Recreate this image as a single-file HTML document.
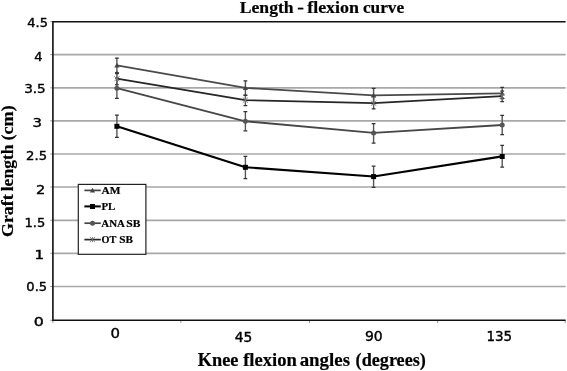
<!DOCTYPE html><html><head><meta charset="utf-8"><style>html,body{margin:0;padding:0;background:#fff;width:567px;height:371px;overflow:hidden}svg{display:block}</style></head><body>
<svg width="567" height="371" viewBox="0 0 567 371">
<rect width="567" height="371" fill="#fff"/>
<path d="M52.9 54.63H565.6M52.9 87.83H565.6M52.9 120.83H565.6M52.9 153.99H565.6M52.9 186.99H565.6M52.9 220.34H565.6M52.9 253.34H565.6M52.9 286.50H565.6" stroke="#a8a8a8" stroke-width="1.6" fill="none"/>
<path d="M50.3 21.6H52.9M50.3 54.6H52.9M50.3 87.8H52.9M50.3 120.8H52.9M50.3 154.0H52.9M50.3 187.0H52.9M50.3 220.3H52.9M50.3 253.3H52.9M50.3 286.5H52.9M50.3 320.3H52.9" stroke="#999" stroke-width="1" fill="none"/>
<path d="M52.9 320.3V323.1M180.9 320.3V323.1M309.5 320.3V323.1M437.6 320.3V323.1M565.2 320.3V323.1" stroke="#999" stroke-width="1" fill="none"/>
<path d="M52.9 21.65H565.6" stroke="#111" stroke-width="1.5" fill="none"/>
<path d="M52.9 20.9V321.1M52.2 320.3H565.6" stroke="#111" stroke-width="1.6" fill="none"/>
<path d="M116.9 58.0V73.0M245.4 80.8V95.3M373.6 88.4V103.6M502.2 87.4V98.5" stroke="#555" stroke-width="1.4" fill="none"/>
<path d="M115.0 58.0H118.8M115.0 73.0H118.8M243.5 80.8H247.3M243.5 95.3H247.3M371.7 88.4H375.5M371.7 103.6H375.5M500.3 87.4H504.1M500.3 98.5H504.1" stroke="#333" stroke-width="1.25" fill="none"/>
<path d="M116.9 72.8V84.6M245.4 95.1V105.7M373.6 96.3V108.9M502.2 91.2V101.6" stroke="#555" stroke-width="1.4" fill="none"/>
<path d="M115.0 72.8H118.8M115.0 84.6H118.8M243.5 95.1H247.3M243.5 105.7H247.3M371.7 96.3H375.5M371.7 108.9H375.5M500.3 91.2H504.1M500.3 101.6H504.1" stroke="#333" stroke-width="1.25" fill="none"/>
<path d="M116.9 78.1V98.3M245.4 111.5V130.8M373.6 123.5V143.0M502.2 115.3V134.6" stroke="#555" stroke-width="1.4" fill="none"/>
<path d="M115.0 78.1H118.8M115.0 98.3H118.8M243.5 111.5H247.3M243.5 130.8H247.3M371.7 123.5H375.5M371.7 143.0H375.5M500.3 115.3H504.1M500.3 134.6H504.1" stroke="#333" stroke-width="1.25" fill="none"/>
<path d="M116.9 115.1V137.3M245.4 156.4V178.7M373.6 166.2V187.3M502.2 145.3V167.1" stroke="#555" stroke-width="1.4" fill="none"/>
<path d="M115.0 115.1H118.8M115.0 137.3H118.8M243.5 156.4H247.3M243.5 178.7H247.3M371.7 166.2H375.5M371.7 187.3H375.5M500.3 145.3H504.1M500.3 167.1H504.1" stroke="#333" stroke-width="1.25" fill="none"/>
<path d="M116.9 65.4 L245.4 87.9 L373.6 95.3 L502.2 93.4" stroke="#4a4a4a" stroke-width="1.8" fill="none" stroke-linejoin="round"/>
<path d="M116.9 62.8 L119.5 67.5 L114.3 67.5Z" fill="#444"/>
<path d="M245.4 85.3 L248.0 90.0 L242.8 90.0Z" fill="#444"/>
<path d="M373.6 92.7 L376.2 97.4 L371.0 97.4Z" fill="#444"/>
<path d="M502.2 90.8 L504.8 95.5 L499.6 95.5Z" fill="#444"/>
<path d="M116.9 78.7 L245.4 100.1 L373.6 103.2 L502.2 96.2" stroke="#262626" stroke-width="1.8" fill="none" stroke-linejoin="round"/>
<path d="M114.3 76.1 L119.5 81.3 M114.3 81.3 L119.5 76.1 M116.9 76.1 L116.9 81.3" stroke="#777" stroke-width="0.9" fill="none"/>
<path d="M242.8 97.5 L248.0 102.7 M242.8 102.7 L248.0 97.5 M245.4 97.5 L245.4 102.7" stroke="#777" stroke-width="0.9" fill="none"/>
<path d="M371.0 100.6 L376.2 105.8 M371.0 105.8 L376.2 100.6 M373.6 100.6 L373.6 105.8" stroke="#777" stroke-width="0.9" fill="none"/>
<path d="M499.6 93.6 L504.8 98.8 M499.6 98.8 L504.8 93.6 M502.2 93.6 L502.2 98.8" stroke="#777" stroke-width="0.9" fill="none"/>
<path d="M116.9 88.2 L245.4 121.3 L373.6 132.9 L502.2 125.0" stroke="#474747" stroke-width="1.9" fill="none" stroke-linejoin="round"/>
<circle cx="116.9" cy="88.2" r="2.5" fill="#555"/>
<circle cx="245.4" cy="121.3" r="2.5" fill="#555"/>
<circle cx="373.6" cy="132.9" r="2.5" fill="#555"/>
<circle cx="502.2" cy="125.0" r="2.5" fill="#555"/>
<path d="M116.9 126.2 L245.4 167.2 L373.6 176.5 L502.2 156.4" stroke="#000" stroke-width="2.1" fill="none" stroke-linejoin="round"/>
<rect x="114.4" y="123.8" width="5" height="5" fill="#000"/>
<rect x="242.9" y="164.8" width="5" height="5" fill="#000"/>
<rect x="371.1" y="174.1" width="5" height="5" fill="#000"/>
<rect x="499.7" y="154.0" width="5" height="5" fill="#000"/>
<ellipse cx="116.9" cy="72.9" rx="1.9" ry="1.5" fill="#3a3a3a"/>
<rect x="78.3" y="184.4" width="67.6" height="69.9" fill="#fff" stroke="#222" stroke-width="1.2"/>
<path d="M84.4 190.4H100.8" stroke="#444" stroke-width="1.70"/>
<path d="M92.5 187.8 L95.1 192.5 L89.9 192.5Z" fill="#444"/>
<path d="M84.4 206.4H100.8" stroke="#000" stroke-width="2.04"/>
<rect x="90.0" y="204.0" width="5" height="5" fill="#000"/>
<path d="M84.4 223.2H100.8" stroke="#444" stroke-width="1.70"/>
<circle cx="92.5" cy="223.2" r="2.5" fill="#555"/>
<path d="M84.4 239.6H100.8" stroke="#262626" stroke-width="1.70"/>
<path d="M89.9 237.0 L95.1 242.2 M89.9 242.2 L95.1 237.0 M92.5 237.0 L92.5 242.2" stroke="#777" stroke-width="0.9" fill="none"/>
<text x="239.81" y="13.00" font-family="Liberation Serif, serif" font-weight="bold" font-size="16.30" stroke="#000" stroke-width="0.2" textLength="53.86" lengthAdjust="spacingAndGlyphs">Length</text>
<text x="297.36" y="13.00" font-family="Liberation Serif, serif" font-weight="bold" font-size="16.30" stroke="#000" stroke-width="0.2" textLength="6.66" lengthAdjust="spacingAndGlyphs">-</text>
<text x="307.18" y="13.00" font-family="Liberation Serif, serif" font-weight="bold" font-size="16.30" stroke="#000" stroke-width="0.2" textLength="51.82" lengthAdjust="spacingAndGlyphs">flexion</text>
<text x="362.92" y="13.00" font-family="Liberation Serif, serif" font-weight="bold" font-size="16.30" stroke="#000" stroke-width="0.2" textLength="41.23" lengthAdjust="spacingAndGlyphs">curve</text>
<text x="197.80" y="365.80" font-family="Liberation Serif, serif" font-weight="bold" font-size="18.40" stroke="#000" stroke-width="0.2" textLength="40.69" lengthAdjust="spacingAndGlyphs">Knee</text>
<text x="243.15" y="365.80" font-family="Liberation Serif, serif" font-weight="bold" font-size="18.40" stroke="#000" stroke-width="0.2" textLength="53.62" lengthAdjust="spacingAndGlyphs">flexion</text>
<text x="299.70" y="365.80" font-family="Liberation Serif, serif" font-weight="bold" font-size="18.40" stroke="#000" stroke-width="0.2" textLength="50.32" lengthAdjust="spacingAndGlyphs">angles</text>
<text x="355.62" y="365.80" font-family="Liberation Serif, serif" font-weight="bold" font-size="18.40" stroke="#000" stroke-width="0.2" textLength="70.25" lengthAdjust="spacingAndGlyphs">(degrees)</text>
<text transform="translate(13.00 237.11) rotate(-90)" font-family="Liberation Serif, serif" font-weight="bold" font-size="17.40" stroke="#000" stroke-width="0.2" textLength="42.94" lengthAdjust="spacingAndGlyphs">Graft</text>
<text transform="translate(13.00 191.30) rotate(-90)" font-family="Liberation Serif, serif" font-weight="bold" font-size="17.40" stroke="#000" stroke-width="0.2" textLength="46.89" lengthAdjust="spacingAndGlyphs">length</text>
<text transform="translate(13.00 140.49) rotate(-90)" font-family="Liberation Serif, serif" font-weight="bold" font-size="17.40" stroke="#000" stroke-width="0.2" textLength="35.25" lengthAdjust="spacingAndGlyphs">(cm)</text>
<text x="101.46" y="194.30" font-family="Liberation Serif, serif" font-weight="bold" font-size="10.30" stroke="#000" stroke-width="0.2" textLength="18.90" lengthAdjust="spacingAndGlyphs">AM</text>
<text x="101.45" y="209.90" font-family="Liberation Serif, serif" font-weight="bold" font-size="10.30" stroke="#000" stroke-width="0.2" textLength="13.88" lengthAdjust="spacingAndGlyphs">PL</text>
<text x="101.30" y="226.80" font-family="Liberation Serif, serif" font-weight="bold" font-size="10.30" stroke="#000" stroke-width="0.2" textLength="23.63" lengthAdjust="spacingAndGlyphs">ANA</text>
<text x="126.30" y="226.80" font-family="Liberation Serif, serif" font-weight="bold" font-size="10.30" stroke="#000" stroke-width="0.2" textLength="14.09" lengthAdjust="spacingAndGlyphs">SB</text>
<text x="101.57" y="242.50" font-family="Liberation Serif, serif" font-weight="bold" font-size="10.30" stroke="#000" stroke-width="0.2" textLength="14.77" lengthAdjust="spacingAndGlyphs">OT</text>
<text x="119.29" y="242.50" font-family="Liberation Serif, serif" font-weight="bold" font-size="10.30" stroke="#000" stroke-width="0.2" textLength="13.68" lengthAdjust="spacingAndGlyphs">SB</text>
<text x="27.36" y="27.40" font-family="DejaVu Sans, sans-serif" font-size="12.20" stroke="#000" stroke-width="0.4" textLength="20.54" lengthAdjust="spacingAndGlyphs">4.5</text>
<text x="34.38" y="60.60" font-family="DejaVu Sans, sans-serif" font-size="12.20" stroke="#000" stroke-width="0.4" textLength="8.26" lengthAdjust="spacingAndGlyphs">4</text>
<text x="24.15" y="93.20" font-family="DejaVu Sans, sans-serif" font-size="12.20" stroke="#000" stroke-width="0.4" textLength="21.55" lengthAdjust="spacingAndGlyphs">3.5</text>
<text x="32.52" y="126.90" font-family="DejaVu Sans, sans-serif" font-size="12.20" stroke="#000" stroke-width="0.4" textLength="9.43" lengthAdjust="spacingAndGlyphs">3</text>
<text x="26.13" y="160.10" font-family="DejaVu Sans, sans-serif" font-size="12.20" stroke="#000" stroke-width="0.4" textLength="20.97" lengthAdjust="spacingAndGlyphs">2.5</text>
<text x="36.02" y="193.50" font-family="DejaVu Sans, sans-serif" font-size="12.20" stroke="#000" stroke-width="0.4" textLength="9.30" lengthAdjust="spacingAndGlyphs">2</text>
<text x="24.47" y="227.40" font-family="DejaVu Sans, sans-serif" font-size="12.20" stroke="#000" stroke-width="0.4" textLength="20.82" lengthAdjust="spacingAndGlyphs">1.5</text>
<text x="34.60" y="258.50" font-family="DejaVu Sans, sans-serif" font-size="12.20" stroke="#000" stroke-width="0.4" textLength="9.62" lengthAdjust="spacingAndGlyphs">1</text>
<text x="26.32" y="291.30" font-family="DejaVu Sans, sans-serif" font-size="12.20" stroke="#000" stroke-width="0.4" textLength="20.79" lengthAdjust="spacingAndGlyphs">0.5</text>
<text x="33.81" y="325.60" font-family="DejaVu Sans, sans-serif" font-size="12.20" stroke="#000" stroke-width="0.4" textLength="10.08" lengthAdjust="spacingAndGlyphs">0</text>
<text x="110.48" y="338.00" font-family="DejaVu Sans, sans-serif" font-size="13.40" stroke="#000" stroke-width="0.4" textLength="9.48" lengthAdjust="spacingAndGlyphs">0</text>
<text x="234.72" y="341.80" font-family="DejaVu Sans, sans-serif" font-size="13.40" stroke="#000" stroke-width="0.4" textLength="17.56" lengthAdjust="spacingAndGlyphs">45</text>
<text x="365.00" y="340.70" font-family="DejaVu Sans, sans-serif" font-size="13.40" stroke="#000" stroke-width="0.4" textLength="17.75" lengthAdjust="spacingAndGlyphs">90</text>
<text x="486.49" y="340.50" font-family="DejaVu Sans, sans-serif" font-size="13.40" stroke="#000" stroke-width="0.4" textLength="25.69" lengthAdjust="spacingAndGlyphs">135</text>
</svg></body></html>
